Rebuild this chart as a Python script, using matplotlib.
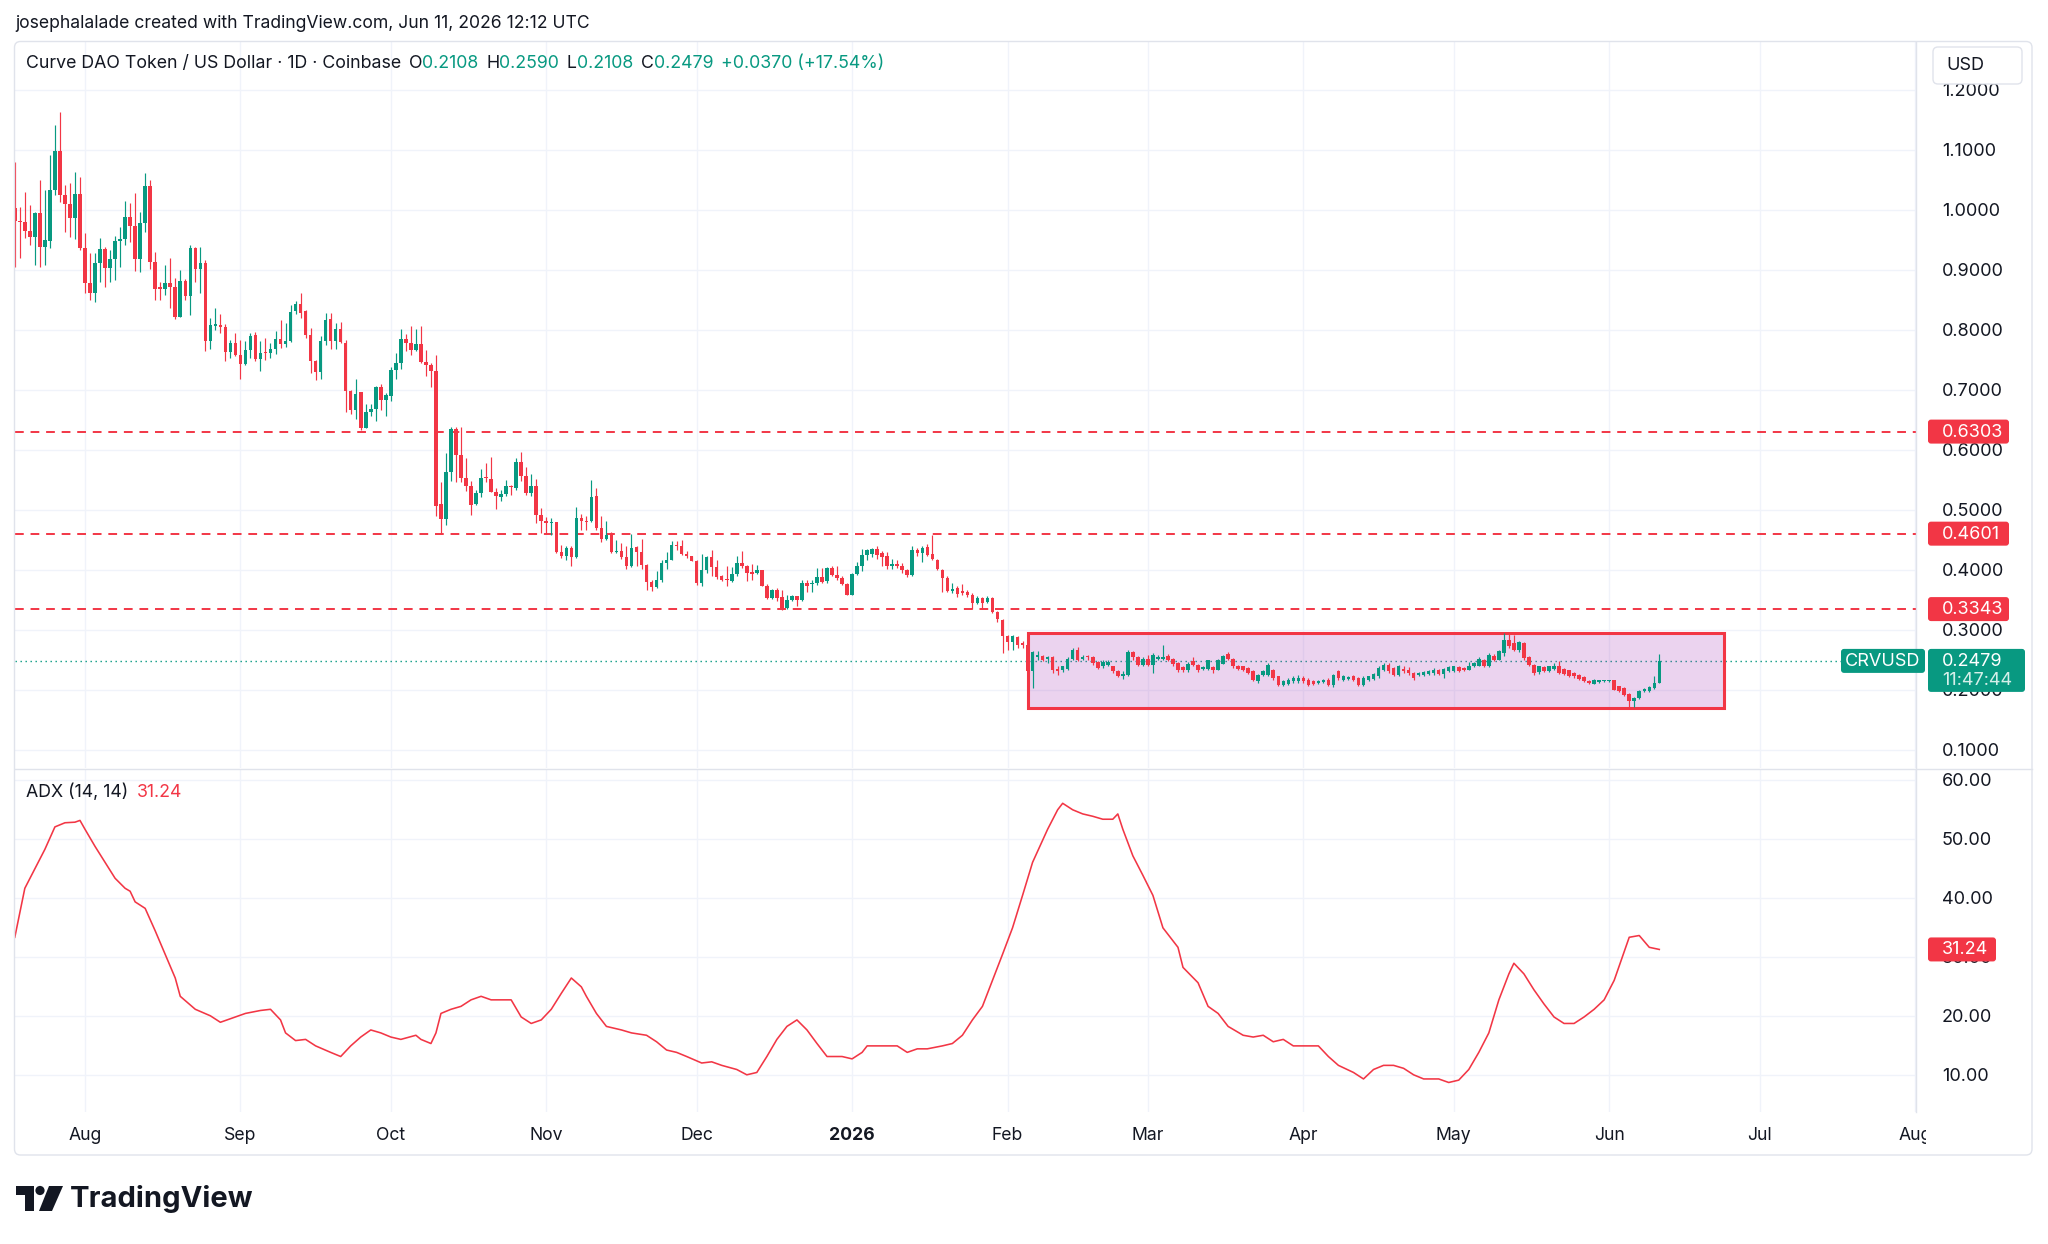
import numpy as np
import pandas as pd
import matplotlib
matplotlib.use("Agg")
import matplotlib.pyplot as plt
import matplotlib.dates as mdates
from matplotlib.patches import FancyBboxPatch, Polygon, Circle, Rectangle
from matplotlib.ticker import FormatStrFormatter
from matplotlib.transforms import Bbox

plt.rcParams['font.family'] = ['Inter', 'DejaVu Sans']

GREEN = '#089981'
RED = '#f23645'
TEXT = '#131722'
GRID = '#f0f3fa'
BORDER = '#e0e3eb'

# ---------------- data ----------------
first_day = "2025-07-18"

opens = [
    # Jul
    1.0028, 0.9817, 0.9806, 0.9650, 0.9556, 0.9944, 0.9389, 0.9483, 1.0333, 1.0983, 1.0250, 1.0094, 0.9872, 1.0272,
    # Aug
    0.9361, 0.8778, 0.8611, 0.9111, 0.9350, 0.9028, 0.9178, 0.9483, 0.9511, 0.9878, 0.9739, 0.9178, 0.9789, 1.0400, 0.9128, 0.8706,
    0.8683, 0.8789, 0.8722, 0.8206, 0.8817, 0.8572, 0.9361, 0.9017, 0.9122, 0.7806, 0.8072, 0.8083, 0.8039, 0.7628, 0.7778,
    # Sep
    0.7572, 0.7428, 0.7667, 0.7906, 0.7517, 0.7628, 0.7611, 0.7683, 0.7850, 0.7761, 0.7817, 0.8306, 0.8428, 0.8306, 0.7917,
    0.7472, 0.7289, 0.7822, 0.8178, 0.7822, 0.8011, 0.7778, 0.6983, 0.6667, 0.6956, 0.6361, 0.6633, 0.6678, 0.7044, 0.6822,
    # Oct
    0.6889, 0.7333, 0.7444, 0.7844, 0.7778, 0.7656, 0.7767, 0.7456, 0.7417, 0.7317, 0.5094, 0.4844, 0.5622, 0.6344, 0.5917, 0.5528,
    0.5389, 0.5100, 0.5278, 0.5544, 0.5511, 0.5289, 0.5211, 0.5267, 0.5400, 0.5361, 0.5789, 0.5556, 0.5278, 0.5400, 0.4917,
    # Nov
    0.4806, 0.4778, 0.4789, 0.4289, 0.4222, 0.4361, 0.4211, 0.4856, 0.4817, 0.4806, 0.5222, 0.4694, 0.4511, 0.4594, 0.4289,
    0.4306, 0.4211, 0.4056, 0.4378, 0.4289, 0.4083, 0.3789, 0.3706, 0.3822, 0.4111, 0.4167, 0.4417, 0.4389, 0.4267, 0.4222,
    # Dec
    0.4139, 0.3778, 0.4000, 0.4211, 0.4044, 0.3900, 0.3844, 0.3806, 0.3933, 0.4111, 0.4056, 0.3956, 0.3944, 0.3989, 0.3733, 0.3528,
    0.3667, 0.3539, 0.3361, 0.3500, 0.3556, 0.3489, 0.3778, 0.3767, 0.3778, 0.3878, 0.3806, 0.4028, 0.3917, 0.3861, 0.3767,
    # Jan
    0.3583, 0.3933, 0.4056, 0.4250, 0.4267, 0.4344, 0.4278, 0.4222, 0.4067, 0.4094, 0.4067, 0.4000, 0.3917, 0.4333, 0.4278, 0.4378,
    0.4267, 0.4167, 0.4000, 0.3861, 0.3639, 0.3694, 0.3639, 0.3622, 0.3583, 0.3444, 0.3528, 0.3456, 0.3528, 0.3289, 0.3167,
    # Feb
    0.2889, 0.2789, 0.2878, 0.2778, 0.2750, 0.2306, 0.2544, 0.2567, 0.2511, 0.2544, 0.2344, 0.2322, 0.2344, 0.2511,
    0.2656, 0.2511, 0.2556, 0.2544, 0.2456, 0.2389, 0.2417, 0.2389, 0.2306, 0.2233, 0.2250, 0.2622, 0.2544, 0.2417,
    # Mar
    0.2511, 0.2417, 0.2511, 0.2511, 0.2567, 0.2511, 0.2444, 0.2378, 0.2322, 0.2472, 0.2417, 0.2344, 0.2344, 0.2378, 0.2333, 0.2433,
    0.2600, 0.2511, 0.2400, 0.2389, 0.2361, 0.2306, 0.2139, 0.2250, 0.2250, 0.2333, 0.2222, 0.2083, 0.2100, 0.2139, 0.2139,
    # Apr
    0.2194, 0.2167, 0.2139, 0.2111, 0.2128, 0.2167, 0.2083, 0.2306, 0.2167, 0.2178, 0.2222, 0.2194, 0.2083, 0.2167, 0.2178,
    0.2222, 0.2333, 0.2417, 0.2361, 0.2250, 0.2344, 0.2333, 0.2278, 0.2250, 0.2250, 0.2267, 0.2278, 0.2322, 0.2267, 0.2306,
    # May
    0.2306, 0.2378, 0.2361, 0.2333, 0.2389, 0.2400, 0.2489, 0.2389, 0.2567, 0.2500, 0.2611, 0.2833, 0.2778, 0.2656, 0.2778, 0.2544,
    0.2417, 0.2289, 0.2378, 0.2306, 0.2344, 0.2400, 0.2344, 0.2322, 0.2278, 0.2250, 0.2211, 0.2150, 0.2100, 0.2122, 0.2139,
    # Jun
    0.2139, 0.2156, 0.2056, 0.2028, 0.1933, 0.1806, 0.1861, 0.1972, 0.1972, 0.2028, 0.2108,
]

highs = [
    1.0806, 1.0056, 1.0306, 1.0083, 0.9972, 1.0500, 1.0333, 1.0917, 1.1417, 1.1639, 1.0417, 1.0444, 1.0628, 1.0556,
    0.9611, 0.9278, 0.9278, 0.9539, 0.9389, 0.9333, 0.9572, 0.9717, 1.0150, 1.0111, 1.0278, 0.9972, 1.0611, 1.0500, 0.9294, 0.8806,
    0.9083, 0.9194, 0.8861, 0.9000, 0.8850, 0.9417, 0.9389, 0.9389, 0.9167, 0.8194, 0.8372, 0.8261, 0.8094, 0.7833, 0.7944,
    0.7833, 0.7806, 0.7944, 0.7961, 0.7806, 0.7861, 0.7778, 0.7983, 0.8167, 0.8111, 0.8417, 0.8478, 0.8622, 0.8333, 0.8028,
    0.7500, 0.7889, 0.8289, 0.8289, 0.8111, 0.8133, 0.7833, 0.7000, 0.7178, 0.6956, 0.6767, 0.6767, 0.7056, 0.7100, 0.6944,
    0.7378, 0.7622, 0.8011, 0.7933, 0.8056, 0.8011, 0.8056, 0.7667, 0.7444, 0.7583, 0.5456, 0.5944, 0.6378, 0.6378, 0.6378, 0.5861,
    0.5472, 0.5333, 0.5678, 0.5778, 0.5878, 0.5361, 0.5333, 0.5500, 0.5417, 0.5861, 0.5956, 0.5711, 0.5600, 0.5511, 0.5028,
    0.4878, 0.4861, 0.4789, 0.4417, 0.4400, 0.4400, 0.5044, 0.4933, 0.4889, 0.5489, 0.5361, 0.4889, 0.4806, 0.4622, 0.4500,
    0.4444, 0.4389, 0.4600, 0.4400, 0.4511, 0.4100, 0.3833, 0.3972, 0.4167, 0.4289, 0.4472, 0.4472, 0.4489, 0.4306, 0.4233,
    0.4156, 0.4267, 0.4233, 0.4322, 0.4156, 0.3917, 0.4056, 0.4044, 0.4222, 0.4306, 0.4083, 0.4100, 0.4083, 0.4000, 0.3767, 0.3678,
    0.3694, 0.3656, 0.3583, 0.3583, 0.3567, 0.3833, 0.3833, 0.3833, 0.4028, 0.4028, 0.4044, 0.4056, 0.4056, 0.3889, 0.3778,
    0.3944, 0.4122, 0.4344, 0.4344, 0.4361, 0.4400, 0.4306, 0.4289, 0.4178, 0.4167, 0.4111, 0.4011, 0.4400, 0.4361, 0.4389, 0.4433,
    0.4583, 0.4178, 0.4011, 0.3889, 0.3778, 0.3733, 0.3767, 0.3656, 0.3611, 0.3567, 0.3544, 0.3567, 0.3544, 0.3306, 0.3178,
    0.2917, 0.2917, 0.2900, 0.2806, 0.2778, 0.2639, 0.2639, 0.2583, 0.2567, 0.2556, 0.2389, 0.2400, 0.2544, 0.2694,
    0.2711, 0.2583, 0.2583, 0.2567, 0.2472, 0.2489, 0.2500, 0.2400, 0.2333, 0.2306, 0.2656, 0.2650, 0.2556, 0.2544,
    0.2583, 0.2611, 0.2583, 0.2750, 0.2600, 0.2533, 0.2467, 0.2400, 0.2467, 0.2544, 0.2433, 0.2400, 0.2500, 0.2389, 0.2511, 0.2578,
    0.2622, 0.2522, 0.2411, 0.2400, 0.2378, 0.2322, 0.2267, 0.2333, 0.2444, 0.2344, 0.2233, 0.2167, 0.2194, 0.2222, 0.2250,
    0.2222, 0.2194, 0.2156, 0.2167, 0.2178, 0.2194, 0.2267, 0.2333, 0.2250, 0.2233, 0.2250, 0.2211, 0.2222, 0.2233, 0.2283,
    0.2389, 0.2444, 0.2444, 0.2378, 0.2411, 0.2389, 0.2378, 0.2289, 0.2300, 0.2311, 0.2333, 0.2361, 0.2344, 0.2361, 0.2400,
    0.2400, 0.2400, 0.2378, 0.2456, 0.2467, 0.2544, 0.2511, 0.2611, 0.2589, 0.2667, 0.2944, 0.2944, 0.2917, 0.2811, 0.2800, 0.2556,
    0.2433, 0.2400, 0.2400, 0.2400, 0.2444, 0.2472, 0.2356, 0.2333, 0.2289, 0.2261, 0.2222, 0.2161, 0.2178, 0.2167, 0.2167,
    0.2167, 0.2167, 0.2067, 0.2039, 0.1944, 0.1878, 0.1994, 0.2028, 0.2056, 0.2222, 0.2590,
]

lows = [
    0.9056, 0.9194, 0.9528, 0.9417, 0.9083, 0.9056, 0.9083, 0.9361, 1.0250, 1.0139, 0.9639, 0.9556, 0.9517, 0.9333,
    0.8611, 0.8500, 0.8472, 0.8806, 0.8722, 0.8806, 0.8833, 0.9056, 0.9417, 0.9472, 0.8983, 0.8961, 0.9639, 0.9017, 0.8500, 0.8500,
    0.8583, 0.8361, 0.8183, 0.8206, 0.8500, 0.8250, 0.8806, 0.8611, 0.7639, 0.7683, 0.8000, 0.7944, 0.7472, 0.7528, 0.7556,
    0.7183, 0.7417, 0.7528, 0.7472, 0.7306, 0.7500, 0.7528, 0.7594, 0.7694, 0.7706, 0.7794, 0.8261, 0.8194, 0.7861, 0.7278,
    0.7156, 0.7178, 0.7750, 0.7678, 0.7678, 0.7778, 0.6622, 0.6600, 0.6511, 0.6322, 0.6361, 0.6556, 0.6472, 0.6656, 0.6556,
    0.6806, 0.7178, 0.7344, 0.7639, 0.7583, 0.7639, 0.7444, 0.7233, 0.7039, 0.4889, 0.4600, 0.4750, 0.5472, 0.5456, 0.5456, 0.5306,
    0.4917, 0.5083, 0.5211, 0.5456, 0.5289, 0.5011, 0.5139, 0.5222, 0.5250, 0.5333, 0.5472, 0.5250, 0.5233, 0.4778, 0.4611,
    0.4600, 0.4583, 0.4278, 0.4194, 0.4167, 0.4056, 0.4194, 0.4667, 0.4656, 0.4789, 0.4667, 0.4456, 0.4500, 0.4278, 0.4278,
    0.4178, 0.4011, 0.4044, 0.4056, 0.4011, 0.3656, 0.3639, 0.3694, 0.3789, 0.4011, 0.4156, 0.4322, 0.4250, 0.4194, 0.4139,
    0.3750, 0.3733, 0.3950, 0.3889, 0.3844, 0.3806, 0.3722, 0.3789, 0.3900, 0.4028, 0.3806, 0.3833, 0.3933, 0.3722, 0.3511, 0.3511,
    0.3472, 0.3322, 0.3344, 0.3472, 0.3400, 0.3472, 0.3622, 0.3622, 0.3750, 0.3778, 0.3778, 0.3889, 0.3833, 0.3750, 0.3583,
    0.3583, 0.3917, 0.3972, 0.4167, 0.4211, 0.4178, 0.4056, 0.4011, 0.4011, 0.4028, 0.3944, 0.3878, 0.3900, 0.4233, 0.4122, 0.4222,
    0.4156, 0.4000, 0.3622, 0.3622, 0.3611, 0.3544, 0.3583, 0.3544, 0.3344, 0.3433, 0.3344, 0.3444, 0.3278, 0.3122, 0.2611,
    0.2656, 0.2667, 0.2694, 0.2694, 0.2289, 0.2028, 0.2500, 0.2472, 0.2444, 0.2278, 0.2250, 0.2289, 0.2333, 0.2500,
    0.2472, 0.2489, 0.2500, 0.2417, 0.2344, 0.2361, 0.2389, 0.2278, 0.2211, 0.2178, 0.2233, 0.2500, 0.2389, 0.2400,
    0.2389, 0.2278, 0.2489, 0.2500, 0.2478, 0.2400, 0.2300, 0.2300, 0.2300, 0.2389, 0.2300, 0.2322, 0.2333, 0.2278, 0.2322, 0.2422,
    0.2500, 0.2367, 0.2322, 0.2311, 0.2256, 0.2144, 0.2111, 0.2233, 0.2233, 0.2167, 0.2056, 0.2056, 0.2078, 0.2111, 0.2111,
    0.2111, 0.2056, 0.2083, 0.2089, 0.2111, 0.2056, 0.2050, 0.2167, 0.2139, 0.2156, 0.2150, 0.2067, 0.2067, 0.2150, 0.2167,
    0.2194, 0.2311, 0.2278, 0.2222, 0.2222, 0.2278, 0.2250, 0.2167, 0.2233, 0.2233, 0.2250, 0.2250, 0.2250, 0.2194, 0.2289,
    0.2289, 0.2289, 0.2311, 0.2322, 0.2378, 0.2389, 0.2378, 0.2378, 0.2478, 0.2489, 0.2556, 0.2700, 0.2650, 0.2633, 0.2500, 0.2389,
    0.2250, 0.2267, 0.2289, 0.2289, 0.2333, 0.2267, 0.2250, 0.2211, 0.2200, 0.2156, 0.2122, 0.2100, 0.2089, 0.2111, 0.2133,
    0.2128, 0.1989, 0.1956, 0.1900, 0.1711, 0.1711, 0.1850, 0.1961, 0.1961, 0.2011, 0.2108,
]

closes = [
    0.9817, 0.9794, 0.9650, 0.9556, 0.9944, 0.9389, 0.9500, 1.0333, 1.0983, 1.0250, 1.0094, 0.9872, 1.0272, 0.9361,
    0.8778, 0.8611, 0.9111, 0.9350, 0.9028, 0.9178, 0.9483, 0.9511, 0.9878, 0.9739, 0.9178, 0.9789, 1.0400, 0.9128, 0.8683, 0.8683,
    0.8789, 0.8722, 0.8206, 0.8817, 0.8572, 0.9361, 0.9017, 0.9122, 0.7806, 0.8083, 0.8094, 0.8039, 0.7628, 0.7778, 0.7572,
    0.7428, 0.7667, 0.7889, 0.7517, 0.7611, 0.7606, 0.7683, 0.7850, 0.7761, 0.7817, 0.8294, 0.8428, 0.8289, 0.7917, 0.7472,
    0.7289, 0.7822, 0.8167, 0.7822, 0.8011, 0.7789, 0.6972, 0.6667, 0.6933, 0.6361, 0.6633, 0.6678, 0.7044, 0.6822, 0.6917,
    0.7333, 0.7444, 0.7844, 0.7778, 0.7656, 0.7767, 0.7456, 0.7417, 0.7317, 0.5067, 0.4844, 0.5622, 0.6344, 0.5917, 0.5528, 0.5389,
    0.5083, 0.5278, 0.5528, 0.5522, 0.5289, 0.5222, 0.5267, 0.5389, 0.5378, 0.5789, 0.5556, 0.5278, 0.5400, 0.4917, 0.4806,
    0.4778, 0.4789, 0.4289, 0.4222, 0.4361, 0.4211, 0.4856, 0.4806, 0.4800, 0.5211, 0.4694, 0.4511, 0.4583, 0.4289, 0.4306,
    0.4211, 0.4056, 0.4361, 0.4289, 0.4083, 0.3789, 0.3706, 0.3822, 0.4111, 0.4167, 0.4417, 0.4389, 0.4267, 0.4222, 0.4139,
    0.3778, 0.4000, 0.4211, 0.4044, 0.3878, 0.3822, 0.3822, 0.3933, 0.4111, 0.4056, 0.3944, 0.3933, 0.3989, 0.3733, 0.3528, 0.3656,
    0.3528, 0.3361, 0.3500, 0.3556, 0.3489, 0.3778, 0.3733, 0.3778, 0.3878, 0.3789, 0.4028, 0.3917, 0.3861, 0.3767, 0.3583,
    0.3933, 0.4056, 0.4250, 0.4322, 0.4344, 0.4250, 0.4211, 0.4067, 0.4094, 0.4067, 0.3989, 0.3917, 0.4333, 0.4278, 0.4361, 0.4250,
    0.4178, 0.4011, 0.3861, 0.3639, 0.3678, 0.3600, 0.3611, 0.3583, 0.3444, 0.3528, 0.3444, 0.3528, 0.3289, 0.3178, 0.2889,
    0.2789, 0.2889, 0.2750, 0.2750, 0.2306, 0.2622, 0.2583, 0.2500, 0.2544, 0.2322, 0.2306, 0.2389, 0.2511, 0.2656,
    0.2500, 0.2544, 0.2539, 0.2444, 0.2361, 0.2456, 0.2456, 0.2306, 0.2233, 0.2267, 0.2622, 0.2544, 0.2417, 0.2511,
    0.2417, 0.2583, 0.2544, 0.2544, 0.2500, 0.2433, 0.2333, 0.2333, 0.2433, 0.2417, 0.2322, 0.2378, 0.2489, 0.2333, 0.2500, 0.2556,
    0.2511, 0.2389, 0.2344, 0.2333, 0.2278, 0.2167, 0.2250, 0.2317, 0.2417, 0.2194, 0.2083, 0.2139, 0.2156, 0.2194, 0.2194,
    0.2139, 0.2083, 0.2100, 0.2150, 0.2156, 0.2083, 0.2250, 0.2194, 0.2222, 0.2211, 0.2167, 0.2083, 0.2194, 0.2222, 0.2267,
    0.2361, 0.2417, 0.2306, 0.2250, 0.2389, 0.2306, 0.2278, 0.2194, 0.2278, 0.2289, 0.2306, 0.2333, 0.2267, 0.2344, 0.2378,
    0.2389, 0.2306, 0.2333, 0.2400, 0.2444, 0.2511, 0.2389, 0.2583, 0.2500, 0.2639, 0.2833, 0.2722, 0.2667, 0.2789, 0.2528, 0.2417,
    0.2278, 0.2389, 0.2306, 0.2389, 0.2400, 0.2278, 0.2267, 0.2233, 0.2222, 0.2178, 0.2139, 0.2111, 0.2167, 0.2156, 0.2156,
    0.2156, 0.2000, 0.1972, 0.1917, 0.1806, 0.1861, 0.1972, 0.2011, 0.2044, 0.2108, 0.2479,
]

adx_dates = [
    "2025-07-18", "2025-07-20", "2025-07-22", "2025-07-24", "2025-07-26", "2025-07-28", "2025-07-30", "2025-07-31",
    "2025-08-01", "2025-08-03", "2025-08-05", "2025-08-07", "2025-08-09", "2025-08-10", "2025-08-11", "2025-08-13",
    "2025-08-15", "2025-08-17", "2025-08-19", "2025-08-20", "2025-08-23", "2025-08-26", "2025-08-28", "2025-08-31",
    "2025-09-02", "2025-09-05", "2025-09-07", "2025-09-09", "2025-09-10", "2025-09-12", "2025-09-14", "2025-09-16",
    "2025-09-19", "2025-09-21", "2025-09-23", "2025-09-25", "2025-09-27", "2025-09-29", "2025-10-01", "2025-10-03",
    "2025-10-06", "2025-10-07", "2025-10-09", "2025-10-10", "2025-10-11", "2025-10-13", "2025-10-15", "2025-10-17",
    "2025-10-19", "2025-10-21", "2025-10-23", "2025-10-25", "2025-10-27", "2025-10-29", "2025-10-31", "2025-11-02",
    "2025-11-04", "2025-11-06", "2025-11-08", "2025-11-09", "2025-11-11", "2025-11-13", "2025-11-16", "2025-11-18",
    "2025-11-21", "2025-11-23", "2025-11-25", "2025-11-27", "2025-11-29", "2025-12-02", "2025-12-04", "2025-12-06",
    "2025-12-09", "2025-12-11", "2025-12-13", "2025-12-15", "2025-12-17", "2025-12-19", "2025-12-21", "2025-12-23",
    "2025-12-25", "2025-12-27", "2025-12-30", "2026-01-01", "2026-01-03", "2026-01-04", "2026-01-07", "2026-01-10",
    "2026-01-12", "2026-01-14", "2026-01-16", "2026-01-19", "2026-01-21", "2026-01-23", "2026-01-25", "2026-01-27",
    "2026-01-29", "2026-01-31", "2026-02-02", "2026-02-04", "2026-02-06", "2026-02-09", "2026-02-11", "2026-02-12",
    "2026-02-14", "2026-02-16", "2026-02-18", "2026-02-20", "2026-02-22", "2026-02-23", "2026-02-24", "2026-02-26",
    "2026-02-28", "2026-03-02", "2026-03-04", "2026-03-07", "2026-03-08", "2026-03-11", "2026-03-13", "2026-03-15",
    "2026-03-17", "2026-03-20", "2026-03-22", "2026-03-24", "2026-03-26", "2026-03-28", "2026-03-30", "2026-04-02",
    "2026-04-04", "2026-04-06", "2026-04-08", "2026-04-11", "2026-04-13", "2026-04-15", "2026-04-17", "2026-04-19",
    "2026-04-21", "2026-04-23", "2026-04-25", "2026-04-28", "2026-04-30", "2026-05-02", "2026-05-04", "2026-05-06",
    "2026-05-08", "2026-05-10", "2026-05-12", "2026-05-13", "2026-05-15", "2026-05-17", "2026-05-19", "2026-05-21",
    "2026-05-23", "2026-05-25", "2026-05-27", "2026-05-29", "2026-05-31", "2026-06-02", "2026-06-04", "2026-06-05",
    "2026-06-07", "2026-06-09", "2026-06-11",
]
adx_values = [
    33.3, 41.6, 44.9, 48.2, 52.0, 52.7, 52.8, 53.1,
    51.6, 48.7, 46.0, 43.3, 41.6, 41.1, 39.3, 38.2,
    34.4, 30.4, 26.4, 23.3, 21.1, 20.0, 18.9, 19.8,
    20.4, 20.9, 21.1, 19.3, 17.1, 15.8, 16.0, 14.9,
    13.8, 13.1, 14.9, 16.4, 17.6, 17.1, 16.4, 16.0,
    16.7, 16.0, 15.3, 17.1, 20.4, 21.1, 21.6, 22.7,
    23.3, 22.7, 22.7, 22.7, 19.8, 18.7, 19.3, 21.1,
    23.8, 26.4, 24.9, 23.3, 20.4, 18.2, 17.6, 17.1,
    16.7, 15.6, 14.2, 13.8, 13.1, 12.0, 12.2, 11.6,
    10.9, 10.0, 10.4, 13.1, 16.0, 18.2, 19.3, 17.6,
    15.3, 13.1, 13.1, 12.7, 13.8, 14.9, 14.9, 14.9,
    13.8, 14.4, 14.4, 14.9, 15.3, 16.7, 19.3, 21.6,
    26.0, 30.4, 34.9, 40.4, 46.0, 51.6, 54.9, 56.0,
    54.9, 54.2, 53.8, 53.3, 53.3, 54.2, 51.6, 47.1,
    43.8, 40.4, 34.9, 31.6, 28.2, 25.6, 21.6, 20.4,
    18.2, 16.7, 16.4, 16.7, 15.6, 16.0, 14.9, 14.9,
    14.9, 13.1, 11.6, 10.4, 9.3, 10.9, 11.6, 11.6,
    11.1, 10.0, 9.3, 9.3, 8.7, 9.1, 10.9, 13.8,
    17.1, 22.7, 27.1, 28.9, 27.1, 24.4, 22.0, 19.8,
    18.7, 18.7, 19.8, 21.1, 22.7, 26.0, 30.9, 33.3,
    33.6, 31.6, 31.24,
]

levels = [0.6303, 0.4601, 0.3343]
box_start, box_end = "2026-02-05", "2026-06-24"
box_low, box_high = 0.1695, 0.2940
last_change, last_change_pct = "+0.0370", "(+17.54%)"
countdown = "11:47:44"
price_ticks = [0.1, 0.2, 0.3, 0.4, 0.5, 0.6, 0.7, 0.8, 0.9, 1.0, 1.1, 1.2]
adx_ticks = [10, 20, 30, 40, 50, 60]
month_starts = ["2025-08-01", "2025-09-01", "2025-10-01", "2025-11-01", "2025-12-01", "2026-01-01", "2026-02-01",
                "2026-03-01", "2026-04-01", "2026-05-01", "2026-06-01", "2026-07-01", "2026-08-01"]
month_labels = ["Aug", "Sep", "Oct", "Nov", "Dec", "2026", "Feb", "Mar", "Apr", "May", "Jun", "Jul", "Aug"]

assert len(opens) == len(highs) == len(lows) == len(closes)
assert len(adx_dates) == len(adx_values)

# ---------------- figure ----------------
W, H, DPI = 2048, 1244, 100
FS = 13.0
fig = plt.figure(figsize=(W / DPI, H / DPI), dpi=DPI, facecolor='white')


def rect(l, t, r, b):
    return [l / W, 1 - b / H, (r - l) / W, (b - t) / H]


ax = fig.add_axes(rect(15, 42, 1916, 768))
ax2 = fig.add_axes(rect(15, 770, 1916, 1112), sharex=ax)

o = np.array(opens); hi = np.array(highs); lo = np.array(lows); c = np.array(closes)
dates = pd.date_range(first_day, periods=len(c), freq='D')
xs = mdates.date2num(dates)
col = np.where(c >= o, GREEN, RED)
ax.vlines(xs, lo, hi, colors=col, lw=0.85, zorder=3)
ax.bar(xs, np.maximum(np.abs(c - o), 0.0018), bottom=np.minimum(o, c), width=0.7,
       color=col, linewidth=0, zorder=4)

for lv in levels:
    ax.axhline(lv, color=RED, lw=1.4, dashes=(4.5, 3.5), zorder=2)
ax.axhline(c[-1], color=GREEN, lw=1.0, dashes=(1, 2.6), zorder=2)

bx0 = mdates.date2num(pd.Timestamp(box_start)); bx1 = mdates.date2num(pd.Timestamp(box_end))
ax.add_patch(Rectangle((bx0, box_low), bx1 - bx0, box_high - box_low,
                       facecolor=(156 / 255, 39 / 255, 176 / 255, 0.2), edgecolor=RED, lw=2.2, zorder=2.5))

ax2.plot(mdates.date2num(pd.to_datetime(adx_dates)), adx_values, color=RED, lw=1.15, zorder=3)

aug1 = mdates.date2num(pd.Timestamp("2025-08-01"))
ax.set_xlim(aug1 - 13.96, aug1 + 365.2)
ax.set_ylim(0.0693, 1.28)
ax2.set_ylim(3.70, 61.64)

mt = mdates.date2num(pd.to_datetime(month_starts))
ax2.set_xticks(mt, month_labels)
for a in (ax, ax2):
    a.grid(True, color=GRID, lw=1.0, zorder=0)
    a.set_axisbelow(True)
    for s in a.spines.values():
        s.set_visible(False)
    a.yaxis.tick_right()
    a.tick_params(axis='y', length=0, pad=18.7, labelsize=FS, labelcolor=TEXT)
    a.set_facecolor('none')
ax.tick_params(axis='x', length=0, labelbottom=False)
ax2.tick_params(axis='x', length=0, pad=10.5, labelsize=12.7, labelcolor=TEXT)
ax.set_yticks(price_ticks)
ax.yaxis.set_major_formatter(FormatStrFormatter('%.4f'))
ax2.set_yticks(adx_ticks)
ax2.yaxis.set_major_formatter(FormatStrFormatter('%.2f'))

xl = ax2.get_xticklabels()
xl[5].set_fontweight('bold')
xl[-1].set_clip_box(Bbox.from_extents(0, 0, 1926, H))
xl[-1].set_clip_on(True)

# ---------------- overlay in pixel coordinates ----------------
ov = fig.add_axes([0, 0, 1, 1])
ov.set_xlim(0, W)
ov.set_ylim(H, 0)
ov.axis('off')
ov.patch.set_visible(False)
ov.set_zorder(10)


def py(a, v):
    return H - a.transData.transform((a.get_xlim()[0], v))[1]


def rbox(x0, y0, x1, y1, fc, ec='none', lw=0, r=3, z=5):
    ov.add_patch(FancyBboxPatch((x0, y0), x1 - x0, y1 - y0,
                                boxstyle=f"round,pad=0,rounding_size={r}", fc=fc, ec=ec, lw=lw, zorder=z))


# frame and separators
rbox(14.5, 41.5, 2032, 1155, 'none', BORDER, 1.0, r=6, z=1)
ov.plot([14.5, 2032], [769, 769], color=BORDER, lw=1.0, zorder=1)
ov.plot([1916, 1916], [42, 1112], color=BORDER, lw=1.0, zorder=1)

# level tags
for lv in levels:
    y = py(ax, lv)
    rbox(1928, y - 12, 2009, y + 12, RED)
    ov.text(1942, y + 0.5, f"{lv:.4f}", color='white', fontsize=FS, ha='left', va='center', zorder=6)

# last price tags
yc = py(ax, c[-1])
rbox(1928, yc - 12, 2025, yc + 31, GREEN)
ov.text(1942, yc + 0.5, f"{c[-1]:.4f}", color='white', fontsize=FS, ha='left', va='center', zorder=6)
ov.text(1942, yc + 20, countdown, color='#d5efe9', fontsize=FS, ha='left', va='center', zorder=6)
rbox(1841, yc - 12, 1925, yc + 12, GREEN)
ov.text(1883, yc + 0.5, "CRVUSD", color='white', fontsize=FS, ha='center', va='center', zorder=6)

# ADX tag
ya = py(ax2, adx_values[-1])
rbox(1928, ya - 12, 1996, ya + 12, RED)
ov.text(1942, ya + 0.5, f"{adx_values[-1]:.2f}", color='white', fontsize=FS, ha='left', va='center', zorder=6)

# USD box
rbox(1933, 47, 2022, 84, 'white', BORDER, 1.0, r=5)
ov.text(1946, 65, "USD", color=TEXT, fontsize=FS, ha='left', va='center', zorder=6)

# credit line
ov.text(15, 23, "josephalalade created with TradingView.com, Jun 11, 2026 12:12 UTC",
        color=TEXT, fontsize=12.65, ha='left', va='center')


def chain(parts, x, y, fs):
    prev = ov.text(x, y, parts[0][0], color=parts[0][1], fontsize=fs, ha='left', va='center', zorder=6)
    for s, colr, gap in parts[1:]:
        prev = ov.annotate(s, xy=(1, 0), xycoords=prev, xytext=(gap, 0), textcoords='offset points',
                           color=colr, fontsize=fs, ha='left', va='bottom', zorder=6)
    return prev


chain([("Curve DAO Token / US Dollar · 1D · Coinbase", TEXT, 0),
       ("O", TEXT, 5.5), (f"{o[-1]:.4f}", GREEN, 0),
       ("H", TEXT, 5.5), (f"{hi[-1]:.4f}", GREEN, 0),
       ("L", TEXT, 5.5), (f"{lo[-1]:.4f}", GREEN, 0),
       ("C", TEXT, 5.5), (f"{c[-1]:.4f}", GREEN, 0),
       (f"{last_change} {last_change_pct}", GREEN, 5.5)], 26, 63, 12.8)

chain([("ADX (14, 14)", TEXT, 0), (f"{adx_values[-1]:.2f}", RED, 6)], 26, 792, 12.8)

# TradingView logo
ov.add_patch(Polygon([(16, 1186), (34, 1186), (34, 1211), (25, 1211), (25, 1195), (16, 1195)],
                     closed=True, fc=TEXT, ec='none'))
ov.add_patch(Circle((40, 1190.5), 4.6, fc=TEXT, ec='none'))
ov.add_patch(Polygon([(49, 1186), (63, 1186), (52, 1211), (39, 1211)], closed=True, fc=TEXT, ec='none'))
ov.text(70, 1199, "TradingView", color=TEXT, fontsize=21, fontweight='bold', ha='left', va='center')

fig.savefig('out.png', dpi=DPI, facecolor='white')
